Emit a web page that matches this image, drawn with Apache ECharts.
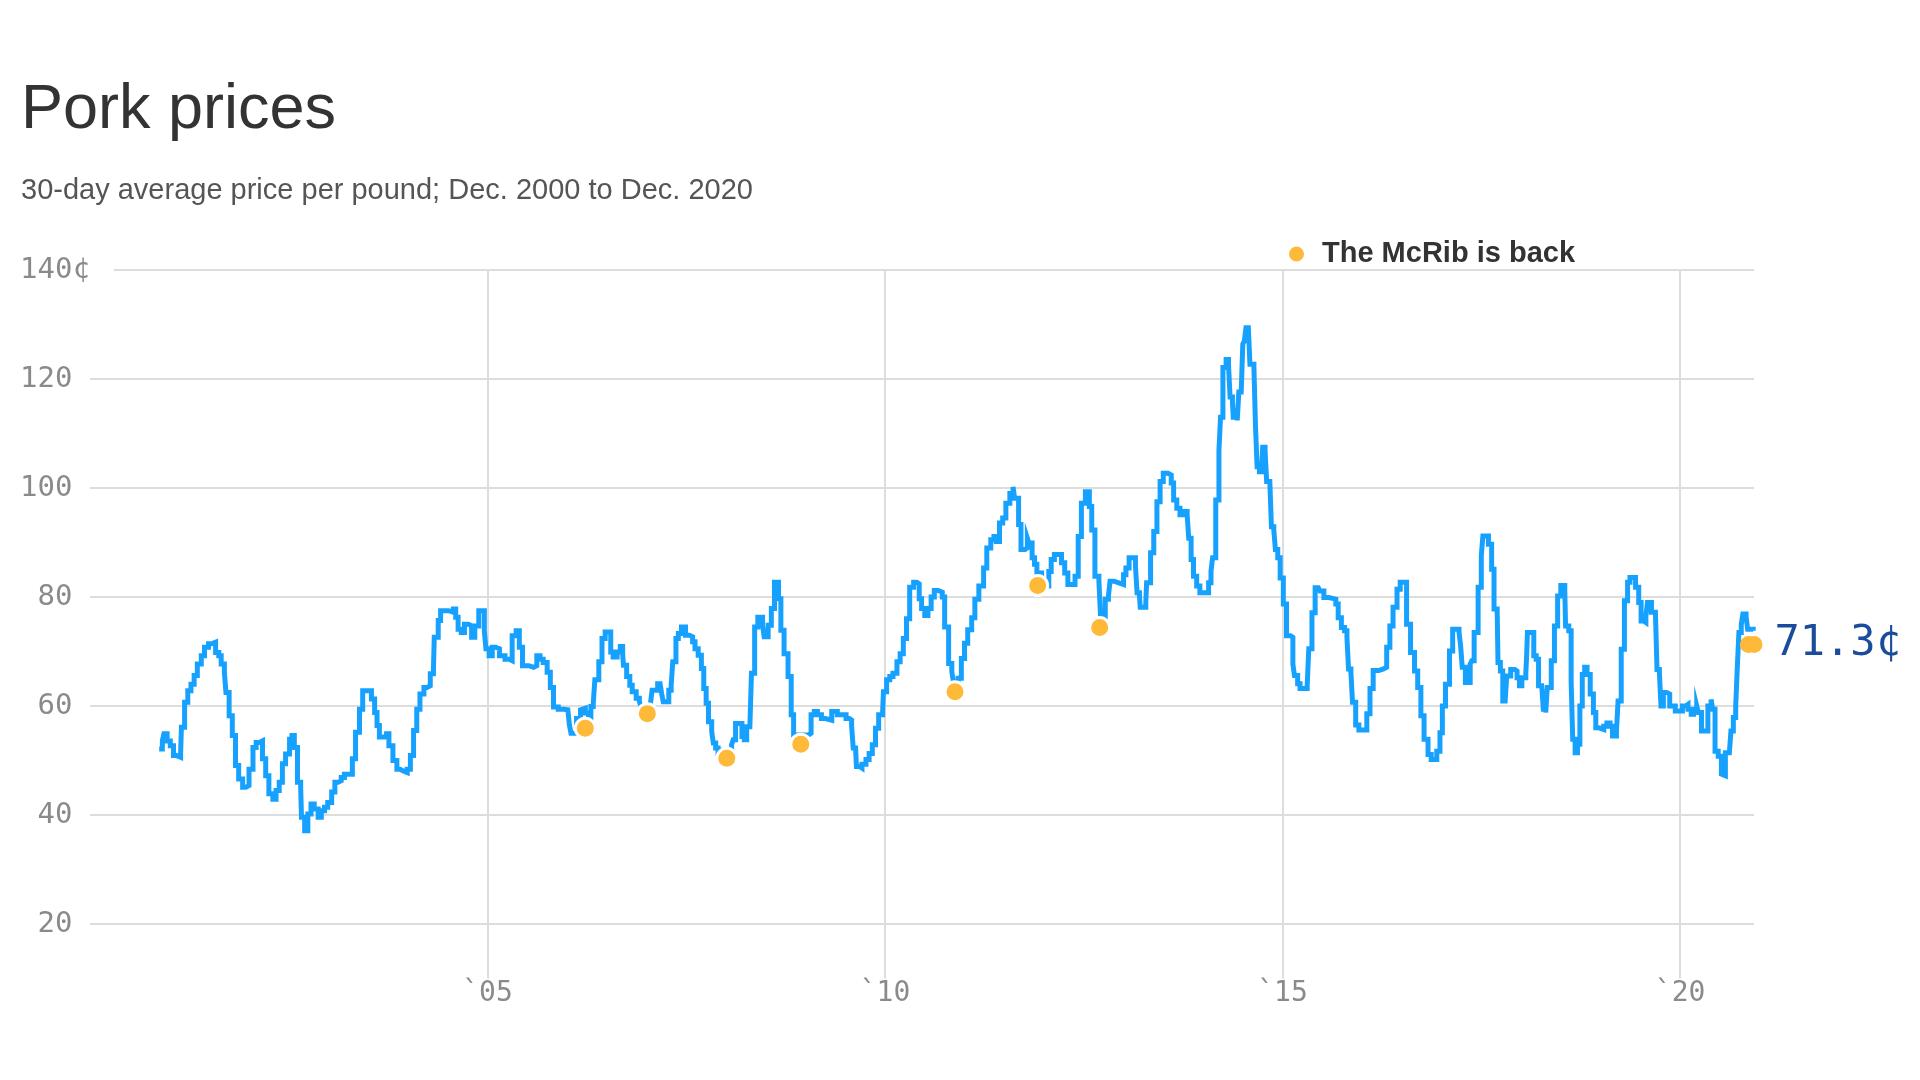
<!DOCTYPE html>
<html>
<head>
<meta charset="utf-8">
<script src="https://cdn.jsdelivr.net/npm/echarts@6/dist/echarts.min.js"></script>
<style>
html,body{margin:0;padding:0;background:#fff;}
#chart{width:1920px;height:1080px;}
</style>
</head>
<body>
<div id="chart"></div>
<script>
// Pork price, 30-day average, cents per pound (decimal year, value)
const priceYears = [
2000.87,2000.91,2000.93,2000.97,2001.01,2001.05,2001.09,2001.14,2001.15,2001.19,2001.23,2001.27,2001.31,2001.35,2001.40,2001.44,2001.49,2001.53,2001.58,2001.62,2001.65,2001.69,2001.71,2001.75,2001.79,2001.83,2001.87,2001.92,2001.96,
2002.00,2002.05,2002.09,2002.13,2002.17,2002.21,2002.25,2002.30,2002.34,2002.38,2002.42,2002.46,2002.51,2002.54,2002.57,2002.61,2002.65,2002.66,2002.70,2002.74,2002.78,2002.82,2002.87,2002.91,2002.95,2002.99,
2003.04,2003.08,2003.12,2003.16,2003.20,2003.30,2003.34,2003.39,2003.43,2003.54,2003.58,2003.61,2003.64,2003.73,2003.76,2003.81,2003.86,2003.90,2003.94,2003.99,
2004.03,2004.07,2004.11,2004.15,2004.20,2004.24,2004.28,2004.32,2004.33,2004.38,2004.41,2004.51,2004.57,2004.60,2004.63,2004.67,2004.71,2004.76,2004.80,2004.84,2004.89,2004.96,2004.98,
2005.02,2005.06,2005.10,2005.15,2005.22,2005.27,2005.31,2005.36,2005.40,2005.44,2005.52,2005.58,2005.62,2005.66,2005.70,2005.75,2005.79,2005.83,2005.89,2005.96,
2006.01,2006.03,2006.05,2006.09,2006.12,2006.17,2006.19,2006.23,2006.27,2006.30,2006.33,2006.35,2006.40,2006.44,2006.48,2006.55,2006.58,2006.63,2006.67,2006.70,2006.71,2006.75,2006.79,2006.82,2006.87,2006.91,2006.93,2006.97,
2007.05,2007.07,2007.14,2007.17,2007.19,2007.21,2007.28,2007.31,2007.33,2007.37,2007.40,2007.44,2007.49,2007.54,2007.58,2007.61,2007.65,2007.69,2007.72,2007.75,2007.78,2007.82,2007.84,2007.87,2007.90,2007.94,
2008.07,2008.09,2008.12,2008.20,2008.23,2008.26,2008.30,2008.32,2008.36,2008.40,2008.46,2008.48,2008.53,2008.57,2008.61,2008.66,2008.69,2008.73,2008.78,2008.82,2008.85,
2009.04,2009.07,2009.11,2009.15,2009.20,2009.25,2009.33,2009.40,2009.51,2009.55,2009.58,2009.60,2009.63,2009.64,2009.68,2009.71,2009.76,2009.80,2009.84,2009.88,2009.92,2009.97,2009.98,
2010.02,2010.06,2010.10,2010.15,2010.19,2010.23,2010.27,2010.31,2010.36,2010.40,2010.43,2010.46,2010.50,2010.54,2010.58,2010.62,2010.67,2010.72,2010.75,2010.80,2010.84,2010.86,2010.92,2010.96,
2011.00,2011.04,2011.09,2011.13,2011.18,2011.24,2011.28,2011.33,2011.37,2011.40,2011.44,2011.48,2011.52,2011.57,2011.61,2011.63,2011.68,2011.71,2011.76,2011.79,2011.81,2011.85,2011.88,2011.91,2011.97,
2012.02,2012.06,2012.09,2012.13,2012.22,2012.26,2012.30,2012.39,2012.43,2012.47,2012.52,2012.57,2012.60,2012.64,2012.69,2012.71,2012.74,2012.77,2012.81,2012.83,2012.88,2012.94,
2013.00,2013.03,2013.07,2013.15,2013.17,2013.20,2013.21,2013.28,2013.29,2013.34,2013.38,2013.42,2013.46,2013.50,2013.56,2013.60,2013.63,2013.67,2013.71,2013.76,2013.80,2013.82,2013.85,2013.88,2013.92,2013.96,
2014.07,2014.10,2014.12,2014.16,2014.20,2014.22,2014.25,2014.29,2014.32,2014.34,2014.37,2014.38,2014.43,2014.45,2014.48,2014.50,2014.52,2014.54,2014.57,2014.59,2014.64,2014.66,2014.68,2014.71,2014.74,2014.75,2014.78,2014.80,2014.84,2014.86,2014.89,2014.91,2014.94,2014.97,
2015.01,2015.05,2015.10,2015.13,2015.15,2015.19,2015.22,2015.31,2015.33,2015.37,2015.41,2015.45,2015.47,2015.52,2015.58,2015.67,2015.70,2015.74,2015.78,2015.81,2015.83,2015.86,2015.88,2015.92,2015.96,
2016.06,2016.10,2016.14,2016.21,2016.27,2016.31,2016.35,2016.39,2016.44,2016.48,2016.56,2016.61,2016.66,2016.70,2016.74,2016.78,2016.83,2016.87,2016.94,2016.98,
2017.01,2017.05,2017.10,2017.14,2017.22,2017.24,2017.26,2017.30,2017.36,2017.38,2017.41,2017.46,2017.50,2017.52,2017.59,2017.63,2017.66,2017.70,2017.71,2017.74,2017.77,2017.80,2017.82,2017.87,2017.92,2017.95,2017.98,
2018.01,2018.06,2018.07,2018.08,2018.16,2018.19,2018.22,2018.26,2018.28,2018.31,2018.33,2018.38,2018.42,2018.46,2018.50,2018.55,2018.56,2018.60,2018.63,2018.65,2018.68,2018.71,2018.74,2018.77,2018.80,2018.83,2018.87,2018.91,2018.94,2018.98,
2019.04,2019.08,2019.12,2019.15,2019.20,2019.22,2019.26,2019.30,2019.34,2019.37,2019.44,2019.48,2019.51,2019.54,2019.57,2019.59,2019.64,2019.69,2019.71,2019.74,2019.76,2019.79,2019.83,2019.87,2019.94,
2020.03,2020.07,2020.10,2020.14,2020.17,2020.21,2020.23,2020.27,2020.35,2020.39,2020.41,2020.44,2020.48,2020.52,2020.54,2020.57,2020.62,2020.64,2020.67,2020.70,2020.72,2020.74,2020.77,2020.79,2020.83,2020.85,2020.92
];
const priceValues = [
52.1,53.6,54.9,53.6,52.7,50.9,50.6,51.5,56.1,60.7,62.8,64.0,65.6,67.7,69.2,70.8,71.4,71.7,69.8,69.2,67.7,66.2,62.5,58.2,54.6,49.1,46.6,45.1,45.4,
48.4,52.4,53.3,53.6,50.3,47.2,43.9,42.9,44.5,46.0,49.4,51.2,53.9,54.6,52.4,46.0,45.1,39.6,37.1,40.2,42.0,41.1,39.6,40.8,41.4,42.3,
44.2,46.0,46.3,46.9,47.5,50.3,55.2,59.4,62.8,61.3,58.8,56.4,54.3,54.9,52.7,50.0,48.4,48.1,47.8,48.4,
50.9,55.5,59.4,62.2,63.4,63.7,65.9,66.8,72.6,75.7,77.5,77.2,77.8,76.3,74.1,73.5,75.0,74.7,72.6,74.7,77.5,73.8,70.5,
69.2,70.8,70.5,69.2,68.6,68.3,72.9,73.8,70.8,67.4,67.1,67.4,69.2,68.6,68.0,66.2,63.4,59.8,59.4,59.3,
59.0,56.5,55.0,55.0,57.7,59.3,59.6,58.7,57.1,59.9,60.5,64.8,68.1,72.4,73.6,69.9,69.0,69.9,70.9,69.6,67.5,65.4,63.8,62.6,61.4,60.8,59.9,59.3,
60.5,62.9,64.1,63.8,62.3,60.8,62.9,63.8,68.1,72.4,73.3,74.5,73.0,72.7,71.8,70.5,69.3,66.9,63.2,60.5,57.1,55.3,53.2,52.3,51.3,51.9,
52.9,53.8,56.8,54.4,53.8,56.2,56.5,66.0,74.5,76.3,74.8,72.7,74.8,77.9,82.7,79.7,73.9,69.6,65.4,58.4,54.7,
55.0,58.4,59.0,58.4,57.7,57.4,59.0,58.4,57.7,57.4,56.2,52.3,52.0,48.9,48.6,49.3,50.2,51.3,52.9,55.9,58.4,59.0,62.6,
64.8,65.4,66.0,68.1,69.6,72.4,76.0,81.8,82.7,82.4,79.7,77.9,76.6,77.9,80.0,81.2,80.9,80.0,74.5,67.8,66.3,64.4,65.1,68.7,
71.5,74.0,76.2,79.6,82.0,85.3,89.0,90.5,91.1,90.2,93.6,94.5,97.2,99.0,100.2,98.1,93.3,88.7,89.0,90.8,89.9,87.2,86.0,84.4,83.0,
82.0,84.7,86.9,87.8,86.3,84.4,82.3,83.8,91.1,97.2,99.3,96.6,92.3,83.8,82.9,76.8,76.5,79.6,80.2,82.9,82.6,82.3,
84.1,85.3,87.2,85.7,80.8,80.2,78.1,79.0,82.6,88.1,92.0,97.5,101.2,102.7,102.4,100.9,97.8,96.3,95.1,95.7,95.1,90.8,86.9,83.8,82.0,80.8,
82.6,84.7,87.2,97.8,106.9,113.0,122.1,123.6,122.7,116.7,115.7,113.0,112.4,117.6,117.9,126.4,127.0,129.4,129.1,122.7,122.1,111.2,103.9,103.0,104.5,107.5,106.9,101.2,100.9,92.9,92.3,88.7,87.2,83.5,
78.7,72.9,72.6,67.7,65.6,64.1,63.2,63.8,70.5,77.1,81.7,82.0,81.1,79.9,79.6,78.7,76.2,74.4,73.8,72.6,66.8,66.2,60.7,56.5,55.6,
58.6,63.2,66.5,66.8,67.1,70.8,74.7,78.1,81.4,82.7,75.0,69.8,66.4,63.4,58.2,53.9,51.1,50.2,51.7,55.1,
60.0,64.0,70.1,74.1,73.5,71.0,67.1,64.3,67.7,68.3,73.5,81.8,87.6,91.2,89.7,85.1,77.8,77.2,68.0,66.4,60.9,61.2,65.5,66.7,66.4,65.2,63.7,
65.2,66.1,69.2,73.5,69.2,68.6,63.7,63.4,59.4,58.8,63.4,68.3,74.7,80.2,82.1,81.1,74.7,73.8,64.3,53.9,51.4,53.0,60.0,65.8,67.1,65.8,62.2,58.8,56.0,55.7,
56.3,56.9,56.3,54.5,55.4,60.9,70.4,79.3,82.7,83.6,81.8,79.0,75.6,75.3,76.5,79.0,77.2,76.9,66.7,66.1,60.0,62.5,62.2,60.0,59.1,
60.0,60.3,59.4,58.5,59.4,60.0,58.8,55.4,60.0,61.2,59.4,51.7,50.8,47.5,47.2,51.4,51.7,55.4,57.9,60.0,67.1,73.5,75.0,76.9,76.5,74.1,73.8
];
// Dates the McRib returned, and the price then
const mcribYears  = [2006.23, 2007.01, 2008.01, 2008.94, 2010.88, 2011.92, 2012.70, 2020.86, 2020.93];
const mcribValues = [55.9, 58.6, 50.4, 53.0, 62.6, 82.1, 74.4, 71.3, 71.3];
const latestLabel = '71.3¢';
const yTicks = [20, 40, 60, 80, 100, 120, 140];
const xTickYears = [2005, 2010, 2015, 2020];

const lineData = priceYears.map((y, i) => [y, priceValues[i]]);
const lastIdx = mcribYears.length - 1;
const dotData = mcribYears.map((y, i) => {
  const item = { value: [y, mcribValues[i]] };
  if (i >= lastIdx - 1) {
    item.symbolSize = 17;
    item.itemStyle = { borderWidth: 0 };
  }
  if (i === lastIdx) {
    item.label = {
      show: true, position: 'right', distance: 12,
      formatter: latestLabel,
      fontFamily: 'DejaVu Sans Mono', fontSize: 42, color: '#1b4c9c'
    };
  }
  return item;
});

const MONO = 'DejaVu Sans Mono';
const chart = echarts.init(document.getElementById('chart'), null, { renderer: 'canvas' });
chart.setOption({
  backgroundColor: '#ffffff',
  animation: false,
  title: [
    { text: 'Pork prices', left: 21, top: 79, padding: 0,
      textStyle: { fontFamily: 'Liberation Sans', fontSize: 63, fontWeight: 'normal', color: '#333333', lineHeight: 63 } },
    { text: '30-day average price per pound; Dec. 2000 to Dec. 2020', left: 21, top: 176, padding: 0,
      textStyle: { fontFamily: 'Liberation Sans', fontSize: 29, fontWeight: 'normal', color: '#555555', lineHeight: 29 } }
  ],
  legend: {
    data: ['The McRib is back'],
    left: 1287, top: 239, padding: 0,
    icon: 'circle', itemWidth: 17, itemHeight: 17,
    textStyle: { fontFamily: 'Liberation Sans', fontWeight: 'bold', fontSize: 29, color: '#333333', padding: [0, 0, 0, 12], lineHeight: 30 }
  },
  grid: { left: 90, right: 166, top: 270, bottom: 101.5, containLabel: false },
  xAxis: {
    type: 'value', min: 2000, max: 2020.93, interval: 5,
    axisLine: { show: false }, axisTick: { show: false },
    splitLine: { show: true, showMinLine: false, showMaxLine: false, lineStyle: { color: '#dddddd', width: 2 } },
    axisLabel: {
      margin: 1, fontFamily: MONO, fontSize: 28, color: '#8a8a8a',
      formatter: v => xTickYears.indexOf(v) >= 0 ? '`' + String(v).slice(2) : ''
    }
  },
  yAxis: {
    type: 'value', min: 10, max: 140, interval: 10,
    axisLine: { show: false }, axisTick: { show: false },
    splitLine: { show: true, lineStyle: { color: ['rgba(0,0,0,0)', '#dddddd'], width: 2 } },
    axisLabel: {
      align: 'left', margin: 70, fontFamily: MONO, fontSize: 29, color: '#8a8a8a',
      formatter: v => {
        if (yTicks.indexOf(v) < 0) return '';
        if (v === 140) return '140¢{g|}';
        return (v < 100 ? '\u00a0' : '') + v;
      },
      rich: { g: { width: 24, height: 8, backgroundColor: '#ffffff' } }
    }
  },
  series: [
    {
      name: 'Pork price', type: 'line', step: 'end', data: lineData,
      showSymbol: false, symbol: 'none', z: 2,
      lineStyle: { color: '#17a1ff', width: 5, join: 'miter' }
    },
    {
      name: 'The McRib is back', type: 'scatter', data: dotData, z: 3,
      symbol: 'circle', symbolSize: 20, clip: false,
      itemStyle: { color: '#ffb938', borderColor: '#ffffff', borderWidth: 3, opacity: 1 }
    }
  ]
});
</script>
</body>
</html>
